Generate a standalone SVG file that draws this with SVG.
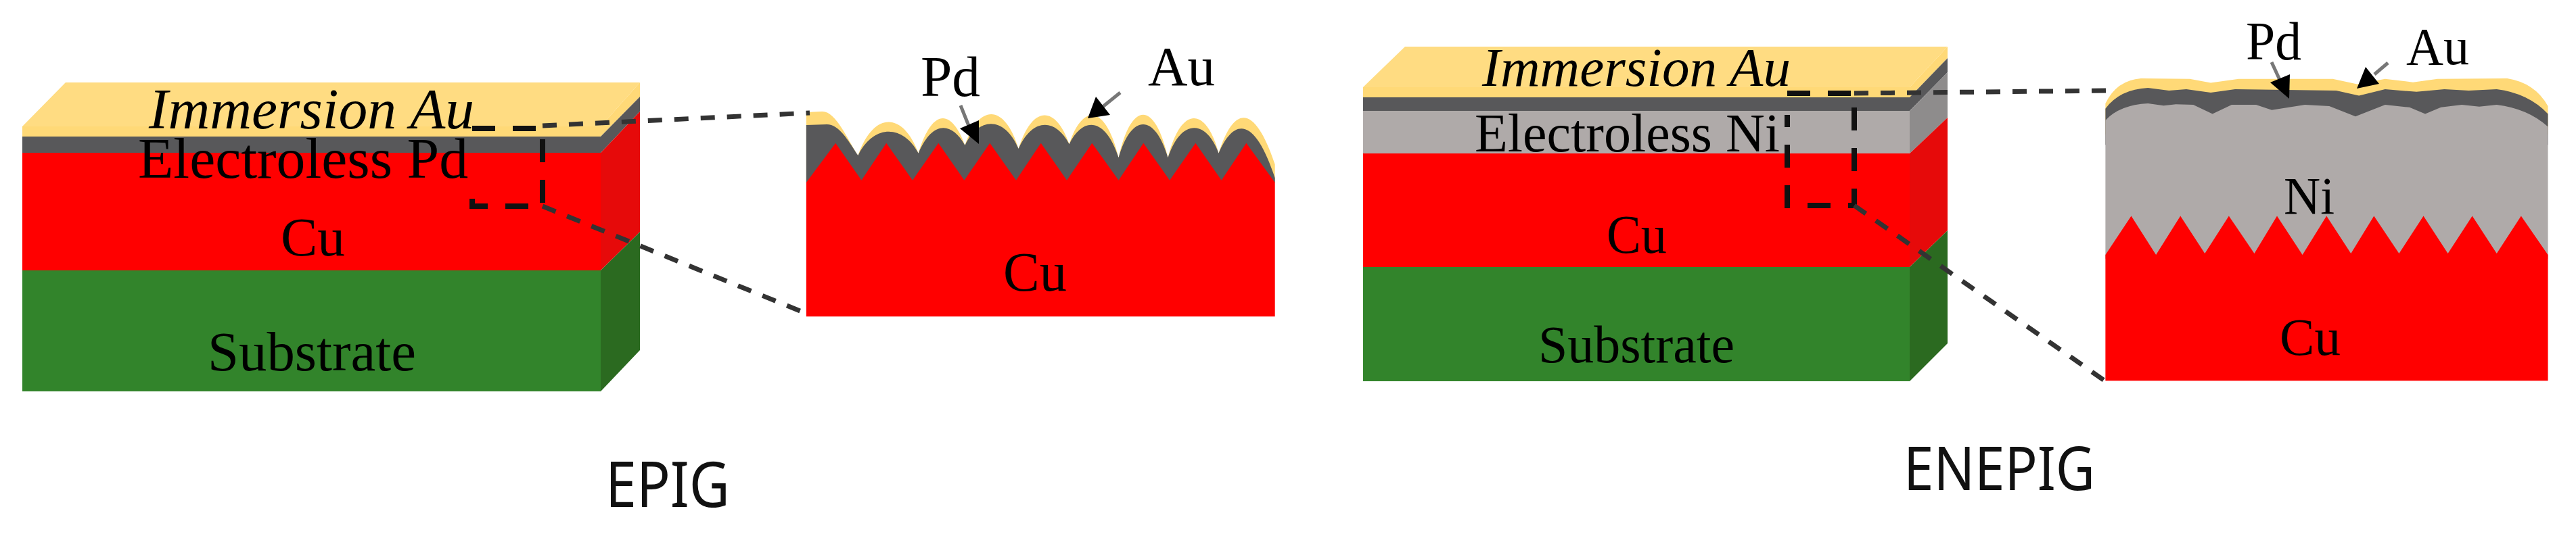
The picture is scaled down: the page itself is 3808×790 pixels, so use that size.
<svg xmlns="http://www.w3.org/2000/svg" width="3808" height="790" viewBox="0 0 3808 790">
<style>
.au{fill:#FFD977}.autop{fill:#FFDC82}.pd{fill:#58585A}.ni{fill:#AFAAA9}.nis{fill:#8E8C8C}.cu{fill:#FF0000}.cus{fill:#E60A0A}.sub{fill:#32842B}.subs{fill:#2B6A20}
text{fill:#000;font-family:"Liberation Serif","Times New Roman",serif}
.i{font-style:italic}
.lab{font-family:"Noto Sans","Open Sans",sans-serif;fill:#111}
.dash{fill:none;stroke:#111;stroke-width:8}
.box{stroke-dasharray:34 26}
.lead{stroke:#333;stroke-width:7;stroke-dasharray:21 18}
.tick{stroke:#777;stroke-width:5;fill:none}
</style>
<rect width="3808" height="790" fill="#fff"/>

<g id="epig-block">
<polygon class="autop" points="33,187 97,122 946,122 888,187"/>
<rect class="au" x="33" y="187" width="855" height="15"/>
<polygon class="au" points="888,187 946,122 946,143 888,202"/>
<rect class="pd" x="33" y="202" width="855" height="24"/>
<polygon class="pd" points="888,202 946,143 946,165 888,226"/>
<rect class="cu" x="33" y="226" width="855" height="174"/>
<polygon class="cus" points="888,226 946,165 946,343 888,400"/>
<rect class="sub" x="33" y="400" width="855" height="179"/>
<polygon class="subs" points="888,400 946,343 946,518 888,579"/>
<text class="i" x="220" y="190" font-size="85" textLength="481" lengthAdjust="spacingAndGlyphs">Immersion Au</text>
<text x="204" y="263" font-size="85" textLength="488" lengthAdjust="spacingAndGlyphs">Electroless Pd</text>
<text x="415" y="378" font-size="81" textLength="95" lengthAdjust="spacingAndGlyphs">Cu</text>
<text x="307" y="548" font-size="83" textLength="308" lengthAdjust="spacingAndGlyphs">Substrate</text>
</g>

<g id="epig-detail">
<g transform="translate(1100,30) scale(.5102,.3333)">
<path class="au" d="M180,408 L225,405 C265,400 300,530 330,600 C375,404 460,404 505,590 C545,390 600,390 640,555 C680,369 755,369 795,570 C835,376 902,376 942,550 C980,370 1047,370 1085,610 C1122,356 1190,356 1228,610 C1265,380 1338,380 1375,590 C1420,373 1480,373 1538,640 L1538,720 L180,720 Z"/>
<path class="pd" d="M180,465 L240,462 C275,462 300,530 330,600 C375,461 460,461 505,590 C545,447 600,447 640,555 C680,426 755,426 795,570 C835,433 902,433 942,550 C980,427 1047,427 1085,610 C1122,413 1190,413 1228,610 C1265,437 1338,437 1375,590 C1420,430 1480,430 1538,700 L1538,720 L180,720 Z"/>
<polygon class="cu" points="180,720 265,545 340,710 412,545 488,710 563,545 638,710 712,545 788,710 860,545 935,710 1008,545 1085,710 1157,545 1233,710 1308,545 1383,710 1455,545 1538,720 1538,1315 180,1315"/>
</g>
<text x="1361" y="142" font-size="85" textLength="88" lengthAdjust="spacingAndGlyphs">Pd</text>
<text x="1697" y="126" font-size="82" textLength="99" lengthAdjust="spacingAndGlyphs">Au</text>
<text x="1483" y="430" font-size="82" textLength="94" lengthAdjust="spacingAndGlyphs">Cu</text>
</g>

<g id="enepig-block">
<polygon class="autop" points="2015,129 2077,69 2879,69 2823,129"/>
<rect class="au" x="2015" y="129" width="808" height="15"/>
<polygon class="au" points="2823,129 2879,69 2879,86 2823,144"/>
<rect class="pd" x="2015" y="144" width="808" height="20"/>
<polygon class="pd" points="2823,144 2879,86 2879,107 2823,164"/>
<rect class="ni" x="2015" y="164" width="808" height="63"/>
<polygon class="nis" points="2823,164 2879,107 2879,174 2823,227"/>
<rect class="cu" x="2015" y="227" width="808" height="168"/>
<polygon class="cus" points="2823,227 2879,174 2879,341 2823,395"/>
<rect class="sub" x="2015" y="395" width="808" height="169"/>
<polygon class="subs" points="2823,395 2879,341 2879,508 2823,564"/>
<text class="i" x="2191" y="127" font-size="81" textLength="456" lengthAdjust="spacingAndGlyphs">Immersion Au</text>
<text x="2180" y="224" font-size="80" textLength="451" lengthAdjust="spacingAndGlyphs">Electroless Ni</text>
<text x="2375" y="374" font-size="80" textLength="89" lengthAdjust="spacingAndGlyphs">Cu</text>
<text x="2274" y="536" font-size="79" textLength="290" lengthAdjust="spacingAndGlyphs">Substrate</text>
</g>

<g id="enepig-detail">
<g transform="translate(3000,0) scale(.5155,.3827)">
<path class="au" d="M218,400 Q250,310 320,303 L460,305 L520,320 L600,305 L870,305 L940,325 L1020,305 L1100,318 L1170,305 L1370,303 Q1450,320 1487,410 L1487,520 L218,520 Z"/>
<path class="pd" d="M218,420 Q260,345 340,340 L400,350 L450,345 L520,358 L590,345 L880,350 L945,370 L1020,345 L1110,355 L1190,345 L1260,350 L1340,345 Q1430,360 1487,440 L1487,560 L218,560 Z"/>
<path class="ni" d="M218,465 Q260,405 340,400 L385,408 L420,403 L470,405 L525,440 L580,405 L650,405 L695,425 L790,405 L860,410 L935,450 L1020,405 L1090,415 L1135,440 L1180,415 L1240,405 L1290,412 L1340,405 Q1430,420 1487,490 L1487,1000 L218,1000 Z"/>
<polygon class="cu" points="218,985 292,835 363,985 433,835 503,980 572,835 645,980 710,835 783,985 852,835 922,980 988,835 1060,980 1130,835 1200,980 1270,835 1340,980 1410,835 1487,985 1487,1472 218,1472"/>
</g>
<text x="3320" y="88" font-size="80" textLength="82" lengthAdjust="spacingAndGlyphs">Pd</text>
<text x="3557" y="95" font-size="78" textLength="93" lengthAdjust="spacingAndGlyphs">Au</text>
<text x="3376" y="316" font-size="78" textLength="75" lengthAdjust="spacingAndGlyphs">Ni</text>
<text x="3370" y="525" font-size="78" textLength="90" lengthAdjust="spacingAndGlyphs">Cu</text>
</g>

<g id="connectors">
<path class="dash box" d="M698,190 H802 V305 H698 V273"/>
<path class="dash lead" d="M802,186 L1197,167"/>
<path class="dash lead" d="M802,305 L1190,463"/>
<path class="dash box" d="M2642,138 H2741 V304 H2642 V170"/>
<path class="dash lead" d="M2741,138 L3120,134"/>
<path class="dash lead" d="M2741,304 L3111,563"/>
<line class="tick" x1="1420" y1="156" x2="1432" y2="186"/>
<polygon points="1419,190 1447,178 1447,213" fill="#000"/>
<line class="tick" x1="1656" y1="137" x2="1630" y2="158"/>
<polygon points="1620,143 1641,170 1608,175" fill="#000"/>
<line class="tick" x1="3358" y1="92" x2="3370" y2="118"/>
<polygon points="3356,122 3385,110 3384,146" fill="#000"/>
<line class="tick" x1="3530" y1="93" x2="3510" y2="110"/>
<polygon points="3497,99 3517,124 3484,131" fill="#000"/>
</g>

<g id="captions">
<text class="lab" x="895" y="750" font-size="93" textLength="184" lengthAdjust="spacingAndGlyphs">EPIG</text>
<text class="lab" x="2814" y="725" font-size="90" textLength="283" lengthAdjust="spacingAndGlyphs">ENEPIG</text>
</g>
</svg>
